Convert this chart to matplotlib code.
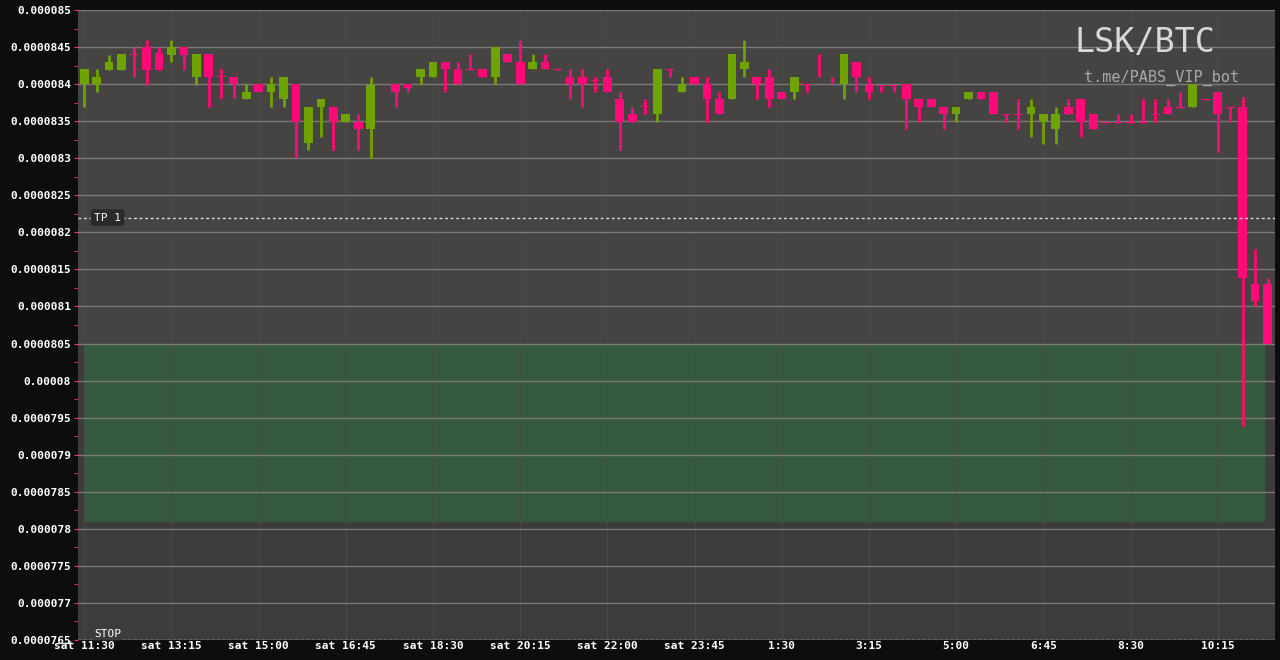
import matplotlib
matplotlib.use("Agg")
import matplotlib.pyplot as plt
from matplotlib.ticker import FixedLocator

S = 1e-8
opens  = [8400,8400,8419,8419,8441,8450,8442,8439,8450,8410,8441,8411,8410,8380,8400,8389,8380,8400,8320,8369,
          8369,8349,8349,8339,8410,8400,8400,8410,8410,8430,8420,8420,8420,8410,8441,8430,8420,8430,8420,8410,
          8410,8405,8410,8380,8360,8370,8360,8420,8389,8410,8400,8380,8380,8420,8410,8410,8389,8389,8400,8410,
          8410,8400,8430,8399,8399,8399,8400,8380,8380,8369,8360,8380,8389,8389,8360,8360,8360,8349,8339,8369,
          8380,8360,8349,8349,8349,8349,8360,8369,8369,8369,8380,8389,8369,8369,8130,8130]
highs  = [8420,8420,8439,8441,8450,8459,8450,8459,8450,8441,8441,8420,8410,8400,8400,8410,8410,8400,8369,8380,
          8369,8360,8360,8410,8410,8400,8400,8420,8430,8430,8430,8441,8420,8450,8441,8459,8441,8441,8420,8420,
          8420,8410,8420,8389,8369,8380,8420,8420,8410,8410,8410,8389,8441,8459,8410,8420,8389,8410,8400,8441,
          8410,8441,8430,8410,8399,8399,8400,8380,8380,8369,8369,8389,8389,8389,8360,8380,8380,8360,8369,8380,
          8380,8360,8349,8360,8360,8380,8380,8380,8389,8400,8380,8389,8369,8382,8178,8138]
lows   = [8369,8389,8419,8419,8410,8399,8419,8430,8419,8399,8369,8381,8381,8380,8389,8369,8369,8300,8311,8328,
          8311,8349,8311,8300,8409,8369,8389,8400,8410,8389,8400,8419,8410,8400,8430,8400,8420,8420,8419,8380,
          8369,8389,8389,8311,8349,8360,8349,8410,8389,8400,8349,8360,8380,8410,8380,8369,8380,8380,8389,8409,
          8400,8380,8389,8380,8389,8389,8339,8349,8369,8339,8349,8380,8380,8360,8349,8339,8328,8319,8319,8360,
          8328,8339,8348,8348,8348,8348,8349,8360,8368,8369,8379,8308,8349,7939,8101,8050]
closes = [8420,8410,8430,8441,8439,8419,8419,8450,8439,8441,8410,8409,8400,8389,8389,8400,8410,8349,8369,8380,
          8349,8360,8339,8399,8409,8389,8395,8420,8430,8420,8400,8419,8410,8450,8430,8400,8430,8420,8419,8400,
          8400,8404,8389,8349,8349,8369,8420,8419,8400,8400,8380,8360,8441,8430,8400,8380,8380,8410,8399,8409,
          8409,8441,8410,8389,8398,8398,8380,8369,8369,8360,8369,8389,8380,8360,8359,8359,8369,8360,8360,8360,
          8349,8339,8348,8348,8348,8348,8359,8360,8368,8400,8379,8360,8368,8139,8108,8050]

xlabels = ["sat 11:30","sat 13:15","sat 15:00","sat 16:45","sat 18:30","sat 20:15","sat 22:00","sat 23:45",
           "1:30","3:15","5:00","6:45","8:30","10:15"]
yticks = [0.0000765,0.000077,0.0000775,0.000078,0.0000785,0.000079,0.0000795,0.00008,0.0000805,
          0.000081,0.0000815,0.000082,0.0000825,0.000083,0.0000835,0.000084,0.0000845,0.000085]
zone_low, zone_high = 0.0000781, 0.0000805
tp1, stop = 0.0000822, 0.0000765

GREEN, PINK = "#6fa300", "#ff0a78"
fig = plt.figure(figsize=(12.8, 6.6), dpi=100, facecolor="#0e0d0d")
ax = fig.add_axes([78/1280, 20/660, 1197/1280, 630/660])
ax.set_facecolor("#3d3c3b")
ax.set_xlim(-0.5, 95.6)
ax.set_ylim(0.0000765, 0.000085)

ax.axvspan(-0.5, 95.6, ymin=(zone_high-0.0000765)/0.0000085, ymax=1, color="#454443", zorder=0)
ax.fill_between([0, 94.7], zone_low, zone_high, color="#355a3e", zorder=1)
ax.plot([0, 94.7], [zone_high, zone_high], color="#4f7a55", lw=0.8, zorder=1)

for i, (o, h, l, c) in enumerate(zip(opens, highs, lows, closes)):
    col = GREEN if c >= o else PINK
    ax.vlines(i, l*S, h*S, color=col, lw=2, zorder=3)
    lo, hi = min(o, c)*S, max(o, c)*S
    if hi - lo < 0.4e-8:
        lo, hi = (lo+hi)/2 - 0.2e-8, (lo+hi)/2 + 0.2e-8
    ax.bar(i, hi-lo, bottom=lo, width=0.7, color=col, zorder=3)

ax.axhline(tp1, color="#dddddd", ls=(0, (2, 2)), lw=1, zorder=4)
ax.axhline(stop+0.000000003, color="#dddddd", ls=(0, (2, 2)), lw=1, zorder=4)
ax.text(0.8, tp1, "TP 1", color="white", fontsize=8, family="DejaVu Sans Mono", va="center",
        bbox=dict(boxstyle="round,pad=0.3", fc="#2a2a2a", ec="none"), zorder=5)
ax.text(0.8, stop+0.00000001, "STOP", color="white", fontsize=8, family="DejaVu Sans Mono", va="bottom",
        bbox=dict(boxstyle="round,pad=0.1", fc="#3d3c3b", ec="none"), zorder=5)

ax.set_yticks(yticks)
ax.set_yticklabels([("%.7f" % v).rstrip("0") for v in yticks], color="white", fontsize=8,
                   family="DejaVu Sans Mono", fontweight="bold")
ax.set_xticks(range(0, 7*len(xlabels), 7))
ax.set_xticklabels(xlabels, color="white", fontsize=8, family="DejaVu Sans Mono", fontweight="bold")
ax.yaxis.set_minor_locator(FixedLocator([v + 0.00000025 for v in yticks[:-1]]))
ax.tick_params(axis="y", which="both", colors="#ff2a6a", length=3, labelcolor="white", pad=2)
ax.tick_params(axis="x", length=0, pad=1)
ax.grid(axis="y", color="#7a7978", lw=1, zorder=2)
ax.grid(axis="x", color="#4a4948", lw=0.8, zorder=2)
for s in ax.spines.values():
    s.set_visible(False)

ax.text(0.95, 0.975, "LSK/BTC", transform=ax.transAxes, ha="right", va="top", color="#d8d8d8",
        fontsize=24, family="DejaVu Sans Mono")
ax.text(0.97, 0.905, "t.me/PABS_VIP_bot", transform=ax.transAxes, ha="right", va="top", color="#a9a9a9",
        fontsize=11, family="DejaVu Sans Mono")
fig.savefig("out.png", dpi=100, facecolor=fig.get_facecolor())
